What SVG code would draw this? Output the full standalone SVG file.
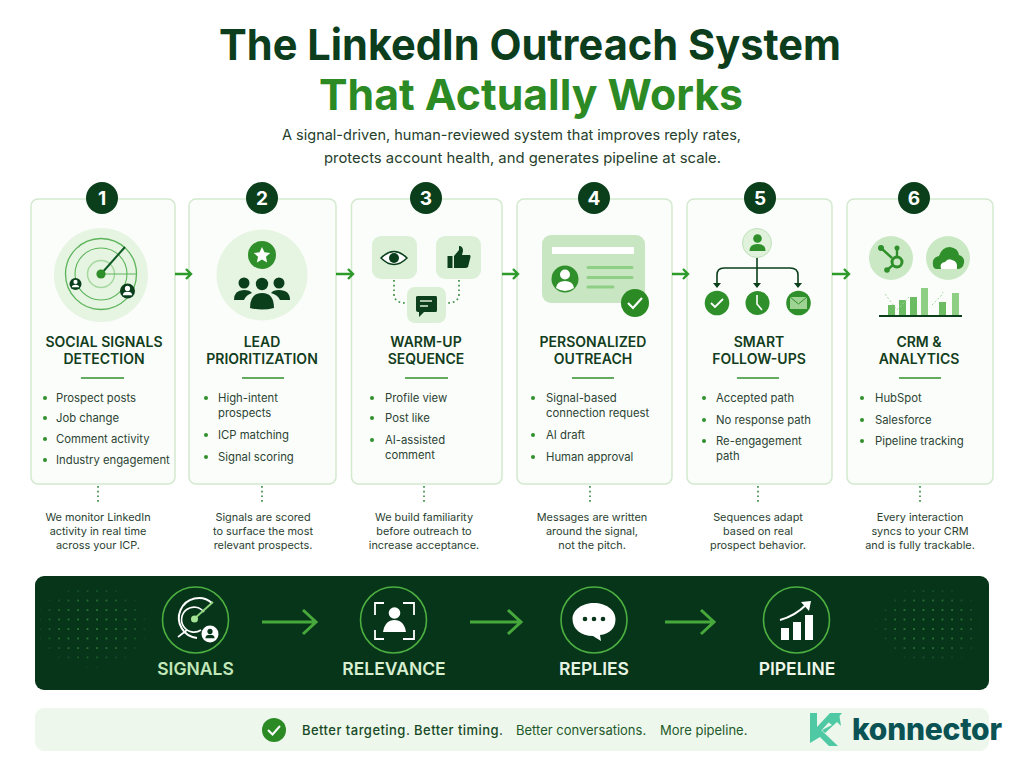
<svg xmlns="http://www.w3.org/2000/svg" width="1024" height="768" viewBox="0 0 1024 768">
<style>
text{font-family:Inter,"Liberation Sans",sans-serif}
.h1{font-size:43px;font-weight:700;text-anchor:middle}
.sub{font-size:14.7px;fill:#26402c;text-anchor:middle}
.card{fill:#fbfdfa;stroke:#d3e9ce;stroke-width:1.5}
.badge{fill:#0b3f1b}
.num{font-size:19px;font-weight:700;fill:#fff;text-anchor:middle}
.tt{font-size:14px;font-weight:600;fill:#123d20;text-anchor:middle}
.rule{stroke:#2f8f2b;stroke-width:1.6}
.li{font-size:11.300px;fill:#2c4434}
.dot{fill:#2f8f2b}
.desc{font-size:10.900px;fill:#2c3f32;text-anchor:middle}
.arr{fill:none;stroke:#2f9a2c;stroke-width:2.400}
.dots{fill:none;stroke:#3d8f45;stroke-width:1.700;stroke-dasharray:1.700 3}
.bnd{fill:none;stroke:#47a93c;stroke-width:3}
.ring{fill:#06351a;stroke:#4caf3f;stroke-width:1.6}
.lbl{font-size:17.500px;font-weight:600;text-anchor:middle}
.dk{fill:#0b3f1b}
.gr{fill:#2f8f2b}
.w{fill:#fff}
.fl{font-size:13px;fill:#1f5a2a}
</style>
<defs>
<g id="user"><circle cx="0" cy="-2.6" r="2.6"/><path d="M-4.6,4.2 Q-4.6,0.8 0,0.8 Q4.6,0.8 4.6,4.2 Z"/></g>
<pattern id="dp" width="9.500" height="9.500" patternUnits="userSpaceOnUse"><circle cx="2" cy="2" r="0.8" fill="#4fb34c"/></pattern>
<radialGradient id="fade1"><stop offset="0" stop-color="#fff"/><stop offset=".6" stop-color="#fff" stop-opacity=".8"/><stop offset="1" stop-color="#fff" stop-opacity="0"/></radialGradient>
<mask id="mk1" maskUnits="userSpaceOnUse" x="35" y="576" width="120" height="114"><ellipse cx="92" cy="626" rx="60" ry="44" fill="url(#fade1)"/></mask>
<mask id="mk2" maskUnits="userSpaceOnUse" x="860" y="576" width="129" height="114"><ellipse cx="930" cy="625" rx="58" ry="42" fill="url(#fade1)"/></mask>
</defs>
<rect width="1024" height="768" fill="#fefffe"/>
<text class="h1" x="530" y="60" fill="#0c3d1c" textLength="622" lengthAdjust="spacingAndGlyphs">The LinkedIn Outreach System</text>
<text class="h1" x="531" y="110" fill="#2b8a24" textLength="424" lengthAdjust="spacingAndGlyphs">That Actually Works</text>
<text class="sub" x="511.500" y="140" textLength="459" lengthAdjust="spacingAndGlyphs">A signal-driven, human-reviewed system that improves reply rates,</text>
<text class="sub" x="522.500" y="163" textLength="397" lengthAdjust="spacingAndGlyphs">protects account health, and generates pipeline at scale.</text>

<g id="node1">
<rect class="card" x="31" y="199" width="144" height="285" rx="7"/>
<circle class="badge" cx="102" cy="198" r="16"/><text class="num" x="102" y="205">1</text>
<circle cx="101" cy="275" r="47" fill="#e6f4e2"/>
<g fill="none" stroke="#5cb45a"><circle cx="101" cy="274" r="35.500" stroke-width="1.300"/><circle cx="101" cy="274" r="26" stroke-width="1.100"/><circle cx="101" cy="274" r="13.500" stroke="#a5d89f" stroke-width="1.500"/><path d="M101,274H136" stroke-width="1.200"/></g>
<path d="M101,274L125,247" stroke="#0f5a25" stroke-width="2"/>
<circle cx="101" cy="274" r="4.600" fill="#2f8f2b"/>
<circle class="badge" cx="75.500" cy="284" r="6"/><use href="#user" class="w" transform="translate(75.500 284) scale(.8)"/>
<circle class="badge" cx="127.500" cy="291" r="7.500"/><use href="#user" x="127.500" y="291" class="w"/>
<text class="tt" x="104" y="347">SOCIAL SIGNALS</text><text class="tt" x="104" y="364">DETECTION</text>
<path class="rule" d="M81,378H124"/>
<circle class="dot" cx="45" cy="398" r="2"/><text class="li" x="56" y="402">Prospect posts</text>
<circle class="dot" cx="45" cy="418" r="2"/><text class="li" x="56" y="422">Job change</text>
<circle class="dot" cx="45" cy="439" r="2"/><text class="li" x="56" y="443">Comment activity</text>
<circle class="dot" cx="45" cy="460" r="2"/><text class="li" x="56" y="464">Industry engagement</text>
<text class="desc" x="98" y="521">We monitor LinkedIn</text><text class="desc" x="98" y="535">activity in real time</text><text class="desc" x="98" y="549">across your ICP.</text>
</g>

<g id="node2">
<rect class="card" x="189" y="199" width="147" height="285" rx="7"/>
<circle class="badge" cx="262" cy="198" r="16"/><text class="num" x="262" y="205">2</text>
<circle cx="262" cy="275" r="45.500" fill="#e6f4e2"/>
<circle cx="262" cy="255" r="14" fill="#2f8f2b"/>
<path class="w" d="M262,247l2.500,5.200l5.700,.7l-4.200,3.900l1.100,5.600l-5.100,-2.800l-5.100,2.800l1.100,-5.600l-4.200,-3.900l5.700,-.7z"/>
<g class="dk"><circle cx="244" cy="283" r="5.500"/><circle cx="262" cy="284" r="6.200"/><circle cx="279" cy="283" r="5.500"/>
<path d="M234,300Q234,290 244,290Q250,290 252,293Q246,295 244,300Z"/><path d="M290,300Q290,290 279,290Q273,290 271,293Q278,295 280,300Z"/>
<path d="M250,308Q250,293 262,293Q274,293 274,308Q262,311 250,308Z"/></g>
<text class="tt" x="262" y="347">LEAD</text><text class="tt" x="262" y="364">PRIORITIZATION</text>
<path class="rule" d="M242,378H284"/>
<circle class="dot" cx="206" cy="398" r="2"/><text class="li" x="218" y="402">High-intent</text><text class="li" x="218" y="417">prospects</text>
<circle class="dot" cx="206" cy="435" r="2"/><text class="li" x="218" y="439">ICP matching</text>
<circle class="dot" cx="206" cy="457" r="2"/><text class="li" x="218" y="461">Signal scoring</text>
<text class="desc" x="263" y="521">Signals are scored</text><text class="desc" x="263" y="535">to surface the most</text><text class="desc" x="263" y="549">relevant prospects.</text>
</g>

<g id="node3">
<rect class="card" x="351.500" y="199" width="150.500" height="285" rx="7"/>
<circle class="badge" cx="426" cy="198" r="16"/><text class="num" x="426" y="205">3</text>
<rect x="372" y="236" width="45" height="43" rx="9" fill="#dcf0d7"/><rect x="436" y="236" width="45" height="43" rx="9" fill="#dcf0d7"/><rect x="407" y="287" width="39" height="36" rx="8" fill="#dcf0d7"/>
<path class="dots" d="M394,280V294Q394,303 406,303M459,280V294Q459,303 447,303"/>
<path d="M381,258Q394,245 407,258Q394,271 381,258Z" fill="#fff" stroke="#0b3f1b" stroke-width="1.500"/><circle class="dk" cx="394" cy="258" r="5"/>
<g class="dk"><rect x="447.500" y="256" width="5" height="12"/><path d="M454,256L459,250V246Q463,246 463,251L462,255H470Q471,256 470,259L468,267Q467,268 465,268H454Z"/></g>
<path class="dk" d="M416,297Q416,296 418,296H436Q437,296 437,298V310Q437,312 436,312H424L419,317V312H418Q416,312 416,310Z"/>
<path d="M420,301H432M420,306H428" stroke="#dcf0d7" stroke-width="1.300"/>
<text class="tt" x="426" y="347">WARM-UP</text><text class="tt" x="426" y="364">SEQUENCE</text>
<path class="rule" d="M405,378H448"/>
<circle class="dot" cx="372" cy="398" r="2"/><text class="li" x="385" y="402">Profile view</text>
<circle class="dot" cx="372" cy="418" r="2"/><text class="li" x="385" y="422">Post like</text>
<circle class="dot" cx="372" cy="440" r="2"/><text class="li" x="385" y="444">AI-assisted</text><text class="li" x="385" y="459">comment</text>
<text class="desc" x="424" y="521">We build familiarity</text><text class="desc" x="424" y="535">before outreach to</text><text class="desc" x="424" y="549">increase acceptance.</text>
</g>

<g id="node4">
<rect class="card" x="517" y="199" width="155" height="285" rx="7"/>
<circle class="badge" cx="594" cy="198" r="16"/><text class="num" x="594" y="205">4</text>
<rect x="542" y="235" width="103" height="68" rx="9" fill="#c8e6c1"/>
<rect x="552" y="247" width="82" height="7" class="w"/>
<circle cx="565" cy="279" r="13.500" fill="#2f8f2b"/><circle cx="565" cy="274.500" r="5" class="w"/><path class="w" d="M556,288Q557,281 565,281Q573,281 574,288Q565,294 556,288Z"/>
<path d="M588,267.500H632M588,277.500H632M588,287H613" stroke="#8fcf85" stroke-width="3" stroke-linecap="round"/>
<circle cx="635" cy="303" r="14" fill="#2b8a24"/><path d="M628,303L633,308L642,298" fill="none" stroke="#fff" stroke-width="2.200"/>
<text class="tt" x="593" y="347">PERSONALIZED</text><text class="tt" x="593" y="364">OUTREACH</text>
<path class="rule" d="M572,378H614"/>
<circle class="dot" cx="533" cy="398" r="2"/><text class="li" x="546" y="402">Signal-based</text><text class="li" x="546" y="417">connection request</text>
<circle class="dot" cx="533" cy="435" r="2"/><text class="li" x="546" y="439">AI draft</text>
<circle class="dot" cx="533" cy="457" r="2"/><text class="li" x="546" y="461">Human approval</text>
<text class="desc" x="592" y="521">Messages are written</text><text class="desc" x="592" y="535">around the signal,</text><text class="desc" x="592" y="549">not the pitch.</text>
</g>

<g id="node5">
<rect class="card" x="687" y="199" width="145" height="285" rx="7"/>
<circle class="badge" cx="760" cy="198" r="16"/><text class="num" x="760" y="205">5</text>
<circle cx="757" cy="243" r="14.500" fill="#e0f1dc" stroke="#bfe2b9"/>
<circle cx="757.500" cy="238.500" r="4.300" fill="#2f8f2b"/><path d="M749.500,251Q749.500,244 757.500,244Q765.500,244 765.500,251Z" fill="#2f8f2b"/>
<path d="M757,258V284M717,284V275Q717,268 724,268H790Q798,268 798,275V284" fill="none" stroke="#0b3f1b" stroke-width="1.600"/>
<path class="dk" d="M713,283H721L717,288ZM753,283H761L757,288ZM794,283H802L798,288Z"/>
<circle cx="717" cy="303" r="12.300" fill="#2f8f2b"/><path d="M711,303L715,307L723,299" fill="none" stroke="#fff" stroke-width="1.800"/>
<circle cx="757.500" cy="303" r="12" fill="#2f8f2b"/><path d="M757,295V304L762,310" fill="none" stroke="#fff" stroke-width="1.600"/>
<circle cx="798.500" cy="303" r="12.300" fill="#2f8f2b"/><path d="M790,297H807V309H790Z" fill="#9ed393"/><path d="M790,297L798.500,304L807,297" fill="none" stroke="#2f8f2b"/>
<text class="tt" x="759" y="347">SMART</text><text class="tt" x="759" y="364">FOLLOW-UPS</text>
<path class="rule" d="M737,378H779"/>
<circle class="dot" cx="704" cy="398" r="2"/><text class="li" x="716" y="402">Accepted path</text>
<circle class="dot" cx="704" cy="420" r="2"/><text class="li" x="716" y="424">No response path</text>
<circle class="dot" cx="704" cy="441" r="2"/><text class="li" x="716" y="445">Re-engagement</text><text class="li" x="716" y="460">path</text>
<text class="desc" x="758" y="521">Sequences adapt</text><text class="desc" x="758" y="535">based on real</text><text class="desc" x="758" y="549">prospect behavior.</text>
</g>

<g id="node6">
<rect class="card" x="847" y="199" width="146" height="285" rx="7"/>
<circle class="badge" cx="914" cy="198" r="16"/><text class="num" x="914" y="205">6</text>
<circle cx="891" cy="258" r="22" fill="#cbe8c5"/><circle cx="948" cy="258" r="22" fill="#cbe8c5"/>
<g stroke="#2f8f2b" stroke-width="2.400" fill="none"><path d="M881,248L892,258M897,249V257M887,270L893,265"/><circle cx="897" cy="262" r="5" stroke-width="3"/></g>
<g class="gr"><circle cx="881" cy="248" r="3"/><circle cx="897" cy="248" r="2.500"/><circle cx="887" cy="270" r="2.800"/></g>
<path class="gr" d="M937,269Q932,269 933,261Q934,257 939,256Q942,247 950,247Q958,248 959,255Q965,257 964,263Q963,269 957,269Z"/>
<path class="w" d="M941,269Q939,263 945,262Q948,258 952,260Q958,261 957,269Z"/>
<g fill="#6cbc63"><rect x="888" y="305" width="7" height="11"/><rect x="899" y="300" width="7" height="16"/><rect x="910" y="297" width="7" height="19"/><rect x="921" y="288" width="7" height="28" fill="#8fcf85"/><rect x="939" y="302" width="7" height="14"/><rect x="952" y="293" width="7" height="23" fill="#8fcf85"/></g>
<path d="M879,316H962" stroke="#0b3f1b" stroke-width="2"/>
<path d="M885,294L897,310L909,297M932,305L941,296L943,292" fill="none" stroke="#a5d89f" stroke-dasharray="2 2"/>
<text class="tt" x="919" y="347">CRM &amp;</text><text class="tt" x="919" y="364">ANALYTICS</text>
<path class="rule" d="M899,378H941"/>
<circle class="dot" cx="862" cy="398" r="2"/><text class="li" x="875" y="402">HubSpot</text>
<circle class="dot" cx="862" cy="420" r="2"/><text class="li" x="875" y="424">Salesforce</text>
<circle class="dot" cx="862" cy="441" r="2"/><text class="li" x="875" y="445">Pipeline tracking</text>
<text class="desc" x="920" y="521">Every interaction</text><text class="desc" x="920" y="535">syncs to your CRM</text><text class="desc" x="920" y="549">and is fully trackable.</text>
</g>

<g id="connectors">
<g class="arr"><path d="M175,274H191M186,269l5,5l-5,5"/><path d="M336,274H353M348,269l5,5l-5,5"/><path d="M502,274H518M513,269l5,5l-5,5"/><path d="M672,274H688M683,269l5,5l-5,5"/><path d="M832,274H849M844,269l5,5l-5,5"/></g>
<g class="dots"><path d="M98,486V502"/><path d="M262,486V502"/><path d="M424,486V502"/><path d="M590,486V502"/><path d="M758,486V502"/><path d="M920,486V502"/></g>
</g>

<g id="band">
<rect x="35" y="576" width="954" height="114" rx="9" fill="#06351a"/>
<rect x="40" y="585" width="110" height="85" fill="url(#dp)" mask="url(#mk1)"/>
<rect x="875" y="585" width="105" height="85" fill="url(#dp)" mask="url(#mk2)"/>
<g id="band-arrows" class="bnd"><path d="M262,622H315M303,610L316,622L303,634"/><path d="M470,622H520M508,610L521,622L508,634"/><path d="M665,622H713M701,610L714,622L701,634"/></g>
<g id="signals">
<circle class="ring" cx="195.500" cy="620" r="33"/>
<g fill="none" stroke="#fff" stroke-width="2"><path d="M212,603A20,20 0 1 0 197,638"/><path d="M204,612A12.500,12.500 0 1 0 201,630" stroke-width="1.600"/><path d="M178,637L187,630" stroke-width="1.600"/></g>
<path d="M194,619L213,602" stroke="#8fd67f" stroke-width="1.800"/><circle cx="194.500" cy="619" r="3.500" fill="#a5e394"/>
<circle cx="210" cy="634" r="8.500" class="w"/><use href="#user" x="210" y="634" fill="#06351a"/>
<text class="lbl" x="195.500" y="675" fill="#c2e7b8">SIGNALS</text></g>
<g id="relevance">
<circle class="ring" cx="393.500" cy="620" r="33"/>
<path d="M375,615V603H384M403,603H414V615M375,630V639H384M403,639H414V630" fill="none" stroke="#fff" stroke-width="1.800"/>
<circle class="w" cx="394.500" cy="613" r="5.800"/><path class="w" d="M383,632Q385,620 394.500,620Q404,620 406,632Z"/>
<text class="lbl" x="394" y="675" fill="#d8efd0">RELEVANCE</text></g>
<g id="replies">
<circle class="ring" cx="594" cy="620" r="33"/>
<path class="w" d="M594,603C606,603 615.500,610 615.500,619C615.500,628 610,634 600,635L601,641L593,636C581,636 572.500,629 572.500,619C572.500,610 582,603 594,603Z"/>
<g fill="#06351a"><circle cx="585" cy="619" r="2.300"/><circle cx="594" cy="619" r="2.300"/><circle cx="603" cy="619" r="2.300"/></g>
<text class="lbl" x="594" y="675" fill="#e6f4e2">REPLIES</text></g>
<g id="pipeline">
<circle class="ring" cx="796.500" cy="620" r="33"/>
<path class="w" d="M781,628H789V640H781ZM793,622H801V640H793ZM805,615H813V640H805Z"/>
<path d="M780,620Q795,616 807,604" fill="none" stroke="#fff" stroke-width="2"/><path class="w" d="M801,602L811,601L809,611Z"/>
<text class="lbl" x="797" y="675" fill="#eef7ea">PIPELINE</text></g>
</g>

<g id="footer">
<rect x="35" y="708" width="954" height="43" rx="9" fill="#edf7ec"/>
<circle cx="274" cy="730" r="12" fill="#2b8a24"/><path d="M268,730L272.500,734.500L280,726" fill="none" stroke="#fff" stroke-width="2"/>
<text class="fl" x="302" y="735" font-weight="500" style="fill:#174a25" textLength="201">Better targeting. Better timing.</text>
<text class="fl" x="516" y="735">Better conversations.</text>
<text class="fl" x="660" y="735">More pipeline.</text>
</g>

<g id="logo">
<path fill="#4fc9a4" d="M810,713H817V727L830,713H842L835,721H830L817,735H810ZM810,735L820,729L838,746H829L820,737L810,743Z"/>
<path fill="#4fc9a4" d="M828,722L839,713L841,726L837,722L825,733L822,730L832,725Z"/>
<text x="852" y="740" font-size="30" font-weight="800" fill="#0b5255" textLength="150">konnector</text>
</g>
</svg>
